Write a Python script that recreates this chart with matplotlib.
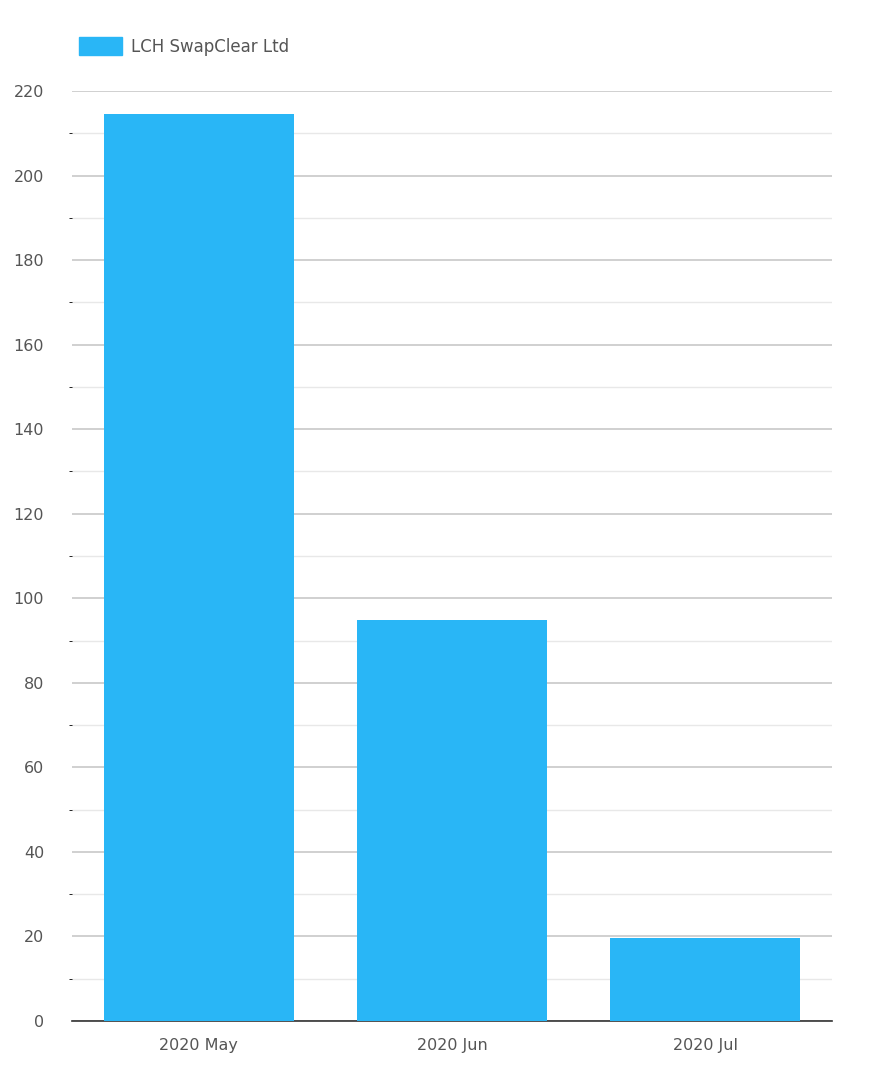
import matplotlib.pyplot as plt
from matplotlib.patches import Patch

categories = ['2020 May', '2020 Jun', '2020 Jul']
values = [214.6, 94.9, 19.6]
series_name = 'LCH SwapClear Ltd'
bar_color = '#29b6f6'

fig = plt.figure(figsize=(8.76, 10.74), dpi=100)
ax = fig.add_axes([72/876, 1-1021/1074, (832-72)/876, (1021-91)/1074])

ax.bar(range(len(categories)), values, width=0.75, color=bar_color, zorder=3)
ax.set_xlim(-0.5, len(categories)-0.5)
ax.set_ylim(0, 220)
ax.set_yticks(range(0, 221, 20))
ax.set_yticks(range(10, 220, 20), minor=True)
ax.grid(axis='y', which='major', color='#c8c8c8', linewidth=1.2, zorder=0)
ax.grid(axis='y', which='minor', color='#e8e8e8', linewidth=1, zorder=0)
ax.set_xticks(range(len(categories)))
ax.set_xticklabels(categories)
ax.tick_params(axis='both', length=0, labelsize=11.5, colors='#555555')
ax.tick_params(axis='y', pad=20)
ax.tick_params(axis='x', pad=12)
for s in ['top', 'right', 'left']:
    ax.spines[s].set_visible(False)
ax.spines['bottom'].set_color('#333333')
ax.spines['bottom'].set_linewidth(1.2)

fig.legend(handles=[Patch(color=bar_color, label=series_name)],
           loc='upper left', bbox_to_anchor=(64/876, 1-22/1074), frameon=False,
           handlelength=2.6, handleheight=1.3, fontsize=12, labelcolor='#555555',
           handletextpad=0.5)

fig.savefig('out.png', dpi=100)
